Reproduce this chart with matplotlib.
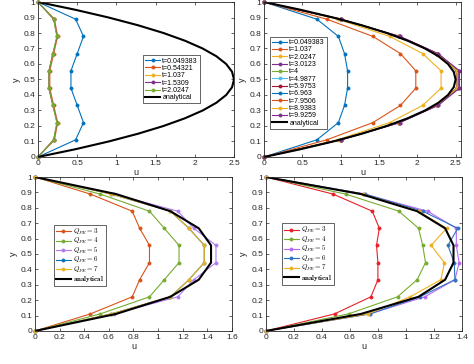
import numpy as np
import matplotlib
matplotlib.use("Agg")
import matplotlib.pyplot as plt

# Configs
plt.rcParams['font.family'] = ['Liberation Sans', 'DejaVu Sans']
plt.rcParams['mathtext.fontset'] = 'cm'
AXIS_COLOR = '#262626'
MATLAB = ['#0072BD', '#D95319', '#EDB120', '#7E2F8E', '#77AC30', '#4DBEEE', '#A2142F']

# grid nodes (y)
Y_NODES = [0, 0.111, 0.222, 0.333, 0.444, 0.556, 0.667, 0.778, 0.889, 1]

# analytical parabola, read at y = 0, 0.05, ..., 1
Y_FINE = [0, 0.05, 0.1, 0.15, 0.2, 0.25, 0.3, 0.35, 0.4, 0.45, 0.5,
          0.55, 0.6, 0.65, 0.7, 0.75, 0.8, 0.85, 0.9, 0.95, 1]
U_ANALYTICAL = [0, 0.475, 0.9, 1.275, 1.6, 1.875, 2.1, 2.275, 2.4, 2.475, 2.5,
                2.475, 2.4, 2.275, 2.1, 1.875, 1.6, 1.275, 0.9, 0.475, 0]

# panel (a) : early times
TL_LABELS = ["t=0.049383", "t=0.54321", "t=1.037", "t=1.5309", "t=2.0247"]
TL_U = [
    [0, 0.48, 0.58, 0.50, 0.42, 0.42, 0.50, 0.58, 0.48, 0],
    [0, 0.21, 0.25, 0.20, 0.15, 0.15, 0.20, 0.25, 0.21, 0],
    [0, 0.20, 0.25, 0.19, 0.14, 0.14, 0.19, 0.25, 0.20, 0],
    [0, 0.20, 0.245, 0.19, 0.14, 0.14, 0.19, 0.245, 0.20, 0],
    [0, 0.20, 0.24, 0.19, 0.14, 0.14, 0.19, 0.24, 0.20, 0],
]

# panel (b) : long times
TR_LABELS = ["t=0.049383", "t=1.037", "t=2.0247", "t=3.0123", "t=4", "t=4.9877",
             "t=5.9753", "t=6.963", "t=7.9506", "t=8.9383", "t=9.9259"]
TR_U = [
    [0, 0.69, 0.97, 1.05, 1.09, 1.09, 1.05, 0.97, 0.69, 0],
    [0, 0.82, 1.42, 1.78, 1.98, 1.98, 1.78, 1.42, 0.82, 0],
    [0, 0.96, 1.64, 2.07, 2.31, 2.31, 2.07, 1.64, 0.96, 0],
    [0, 1.00, 1.77, 2.27, 2.54, 2.54, 2.27, 1.77, 1.00, 0],
    [0, 1.00, 1.76, 2.26, 2.52, 2.52, 2.26, 1.76, 1.00, 0],
    [0, 1.00, 1.76, 2.26, 2.52, 2.52, 2.26, 1.76, 1.00, 0],
    [0, 1.00, 1.76, 2.26, 2.52, 2.52, 2.26, 1.76, 1.00, 0],
    [0, 1.00, 1.76, 2.26, 2.52, 2.52, 2.26, 1.76, 1.00, 0],
    [0, 1.00, 1.76, 2.26, 2.52, 2.52, 2.26, 1.76, 1.00, 0],
    [0, 1.00, 1.76, 2.26, 2.52, 2.52, 2.26, 1.76, 1.00, 0],
    [0, 1.00, 1.77, 2.27, 2.55, 2.55, 2.27, 1.77, 1.00, 0],
]

# panels (c) and (d) : polynomial degree
Q_LABELS = [r"$Q_{PE}=3$", r"$Q_{PE}=4$", r"$Q_{PE}=5$", r"$Q_{PE}=6$", r"$Q_{PE}=7$"]
BL_U = [
    [0, 0.45, 0.79, 0.85, 0.93, 0.93, 0.85, 0.79, 0.45, 0],
    [0, 0.53, 0.93, 1.05, 1.17, 1.17, 1.05, 0.93, 0.53, 0],
    [0, 0.64, 1.16, 1.29, 1.47, 1.47, 1.29, 1.16, 0.64, 0],
    [0, 0.62, 1.10, 1.25, 1.375, 1.375, 1.25, 1.10, 0.62, 0],
    [0, 0.62, 1.10, 1.25, 1.375, 1.375, 1.25, 1.10, 0.62, 0],
]
BL_EXACT = [0, 0.66, 1.10, 1.33, 1.43, 1.43, 1.33, 1.10, 0.66, 0]

BR_U = [
    [0, 0.49, 0.75, 0.80, 0.80, 0.79, 0.81, 0.76, 0.48, 0],
    [0, 0.59, 0.94, 1.08, 1.14, 1.12, 1.09, 0.95, 0.57, 0],
    [0, 0.74, 1.135, 1.35, 1.38, 1.36, 1.36, 1.155, 0.70, 0],
    [0, 0.745, 1.10, 1.35, 1.345, 1.30, 1.37, 1.12, 0.71, 0],
    [0, 0.73, 1.03, 1.25, 1.275, 1.18, 1.29, 1.09, 0.69, 0],
]
BR_EXACT = [0, 0.68, 1.09, 1.28, 1.34, 1.34, 1.28, 1.08, 0.68, 0]

BL_COLORS = ['#D95319', '#77AC30', '#B07CF2', '#0072BD', '#EDB120']
BR_COLORS = ['#E8202A', '#77AC30', '#B86AF5', '#2F73C0', '#EDB120']


def style_axes(ax, xlim, xticks):
    ax.set_xlim(xlim)
    ax.set_ylim(0, 1)
    ax.set_xticks(xticks)
    ax.set_xticklabels([f"{t:g}" for t in xticks])
    ax.set_yticks(np.arange(0, 1.01, 0.1))
    ax.set_yticklabels([f"{t:g}" for t in np.round(np.arange(0, 1.01, 0.1), 1)])
    ax.tick_params(direction='in', top=True, right=True, labelsize=6,
                   length=2.5, width=0.5, colors=AXIS_COLOR, pad=2)
    for s in ax.spines.values():
        s.set_linewidth(0.6)
        s.set_color(AXIS_COLOR)
    ax.set_xlabel("u", fontsize=6.5, color=AXIS_COLOR, labelpad=1)
    ax.set_ylabel("y", fontsize=6.5, color=AXIS_COLOR, labelpad=2)


def plot_set(ax, series, labels, colors, exact_u, exact_y):
    for u, lab, c in zip(series, labels, colors):
        ax.plot(u, Y_NODES, '-o', color=c, lw=0.8, ms=2.2, mfc=c, mew=0.6,
                label=lab, clip_on=False)
    ax.plot(exact_u, exact_y, '-', color='black', lw=1.5, label="analytical")


def add_legend(ax, anchor, size, spacing):
    leg = ax.legend(loc='upper left', bbox_to_anchor=anchor, fontsize=size,
                    handlelength=2.2, handletextpad=0.3, labelspacing=spacing,
                    borderpad=0.3, borderaxespad=0, frameon=True, fancybox=False,
                    edgecolor=AXIS_COLOR, framealpha=1)
    leg.get_frame().set_linewidth(0.5)


fig = plt.figure(figsize=(4.74, 3.64), dpi=100)

# (a)
ax1 = fig.add_axes([0.0802, 0.5687, 0.4135, 0.4258])
plot_set(ax1, TL_U, TL_LABELS, MATLAB, U_ANALYTICAL, Y_FINE)
style_axes(ax1, (0, 2.5), [0, 0.5, 1, 1.5, 2, 2.5])
add_legend(ax1, (0.535, 0.655), 5, 0.05)

# (b)
ax2 = fig.add_axes([0.557, 0.5687, 0.4156, 0.4258])
tr_colors = [MATLAB[i % 7] for i in range(len(TR_U))]
plot_set(ax2, TR_U, TR_LABELS, tr_colors, U_ANALYTICAL, Y_FINE)
style_axes(ax2, (0, 2.57), [0, 0.5, 1, 1.5, 2, 2.5])
add_legend(ax2, (0.03, 0.775), 5, 0.05)

# (c)
ax3 = fig.add_axes([0.0738, 0.0907, 0.4156, 0.423])
plot_set(ax3, BL_U, Q_LABELS, BL_COLORS, BL_EXACT, Y_NODES)
ax3.lines[-1].set_label(r"$\mathbf{analytical}$")
style_axes(ax3, (0, 1.6), [0, 0.2, 0.4, 0.6, 0.8, 1, 1.2, 1.4, 1.6])
add_legend(ax3, (0.095, 0.69), 5, -0.1)

# (d)
ax4 = fig.add_axes([0.561, 0.0907, 0.4135, 0.423])
plot_set(ax4, BR_U, Q_LABELS, BR_COLORS, BR_EXACT, Y_NODES)
ax4.lines[-1].set_label(r"$\mathbf{analytical}$")
style_axes(ax4, (0, 1.4), [0, 0.2, 0.4, 0.6, 0.8, 1, 1.2, 1.4])
add_legend(ax4, (0.08, 0.70), 5, -0.1)

fig.savefig("out.png", dpi=100)
